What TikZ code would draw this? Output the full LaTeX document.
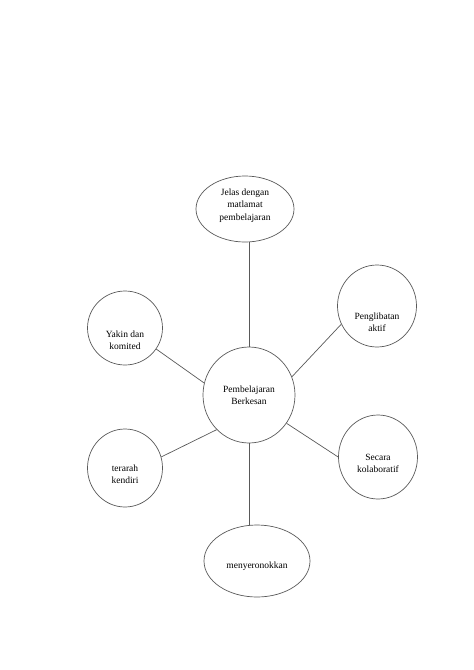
\documentclass[tikz,border=0pt]{standalone}
\usepackage{fontspec}
\setmainfont{Liberation Serif}
\usetikzlibrary{shapes.geometric}
\newcommand{\isi}[2][0pt]{\makebox[0pt]{\raisebox{\dimexpr-2.4pt-(#1)\relax}[0pt][0pt]{\begin{tabular}{@{}c@{}}#2\end{tabular}}}}
\begin{document}
\begin{tikzpicture}[x=1pt, y=-1pt]
\tikzstyle{every node} = [draw=black!65, line width=0.7pt, ellipse, inner sep=0pt, font=\fontsize{9.5}{12.5}\selectfont]
\tikzstyle{every path} = [draw=black!65, line width=0.7pt]
\path[use as bounding box, draw=none] (0,0) rectangle (474,670);
\node[minimum width=92, minimum height=96] (c_0) at (249, 395) {\isi[1pt]{Pembelajaran\\Berkesan}};
\node[minimum width=98, minimum height=66] (c_1) at (245, 209) {\isi[-4pt]{Jelas dengan\\matlamat\\pembelajaran}};
\node[minimum width=75, minimum height=74] (c_2) at (125, 328) {\isi[13pt]{Yakin dan\\komited}};
\node[minimum width=79, minimum height=82] (c_3) at (377, 306) {\isi[17pt]{Penglibatan\\aktif}};
\node[minimum width=79, minimum height=84] (c_4) at (378, 457) {\isi[7pt]{Secara\\kolaboratif}};
\node[minimum width=75, minimum height=78] (c_5) at (125, 468) {\isi[7pt]{terarah\\kendiri}};
\node[minimum width=106, minimum height=72] (c_6) at (257, 561) {\isi[5pt]{menyeronokkan}};
\path (c_0.north) -- (c_0.north |- c_1.south);
\path (c_2.-34) -- (c_0.165);
\path (c_3.207) -- (c_0.23);
\path (c_0.-37) -- (c_4.180);
\path (c_5.17) -- (c_0.227);
\path (c_0.south) -- (c_0.south |- c_6.north);
\end{tikzpicture}
\end{document}
